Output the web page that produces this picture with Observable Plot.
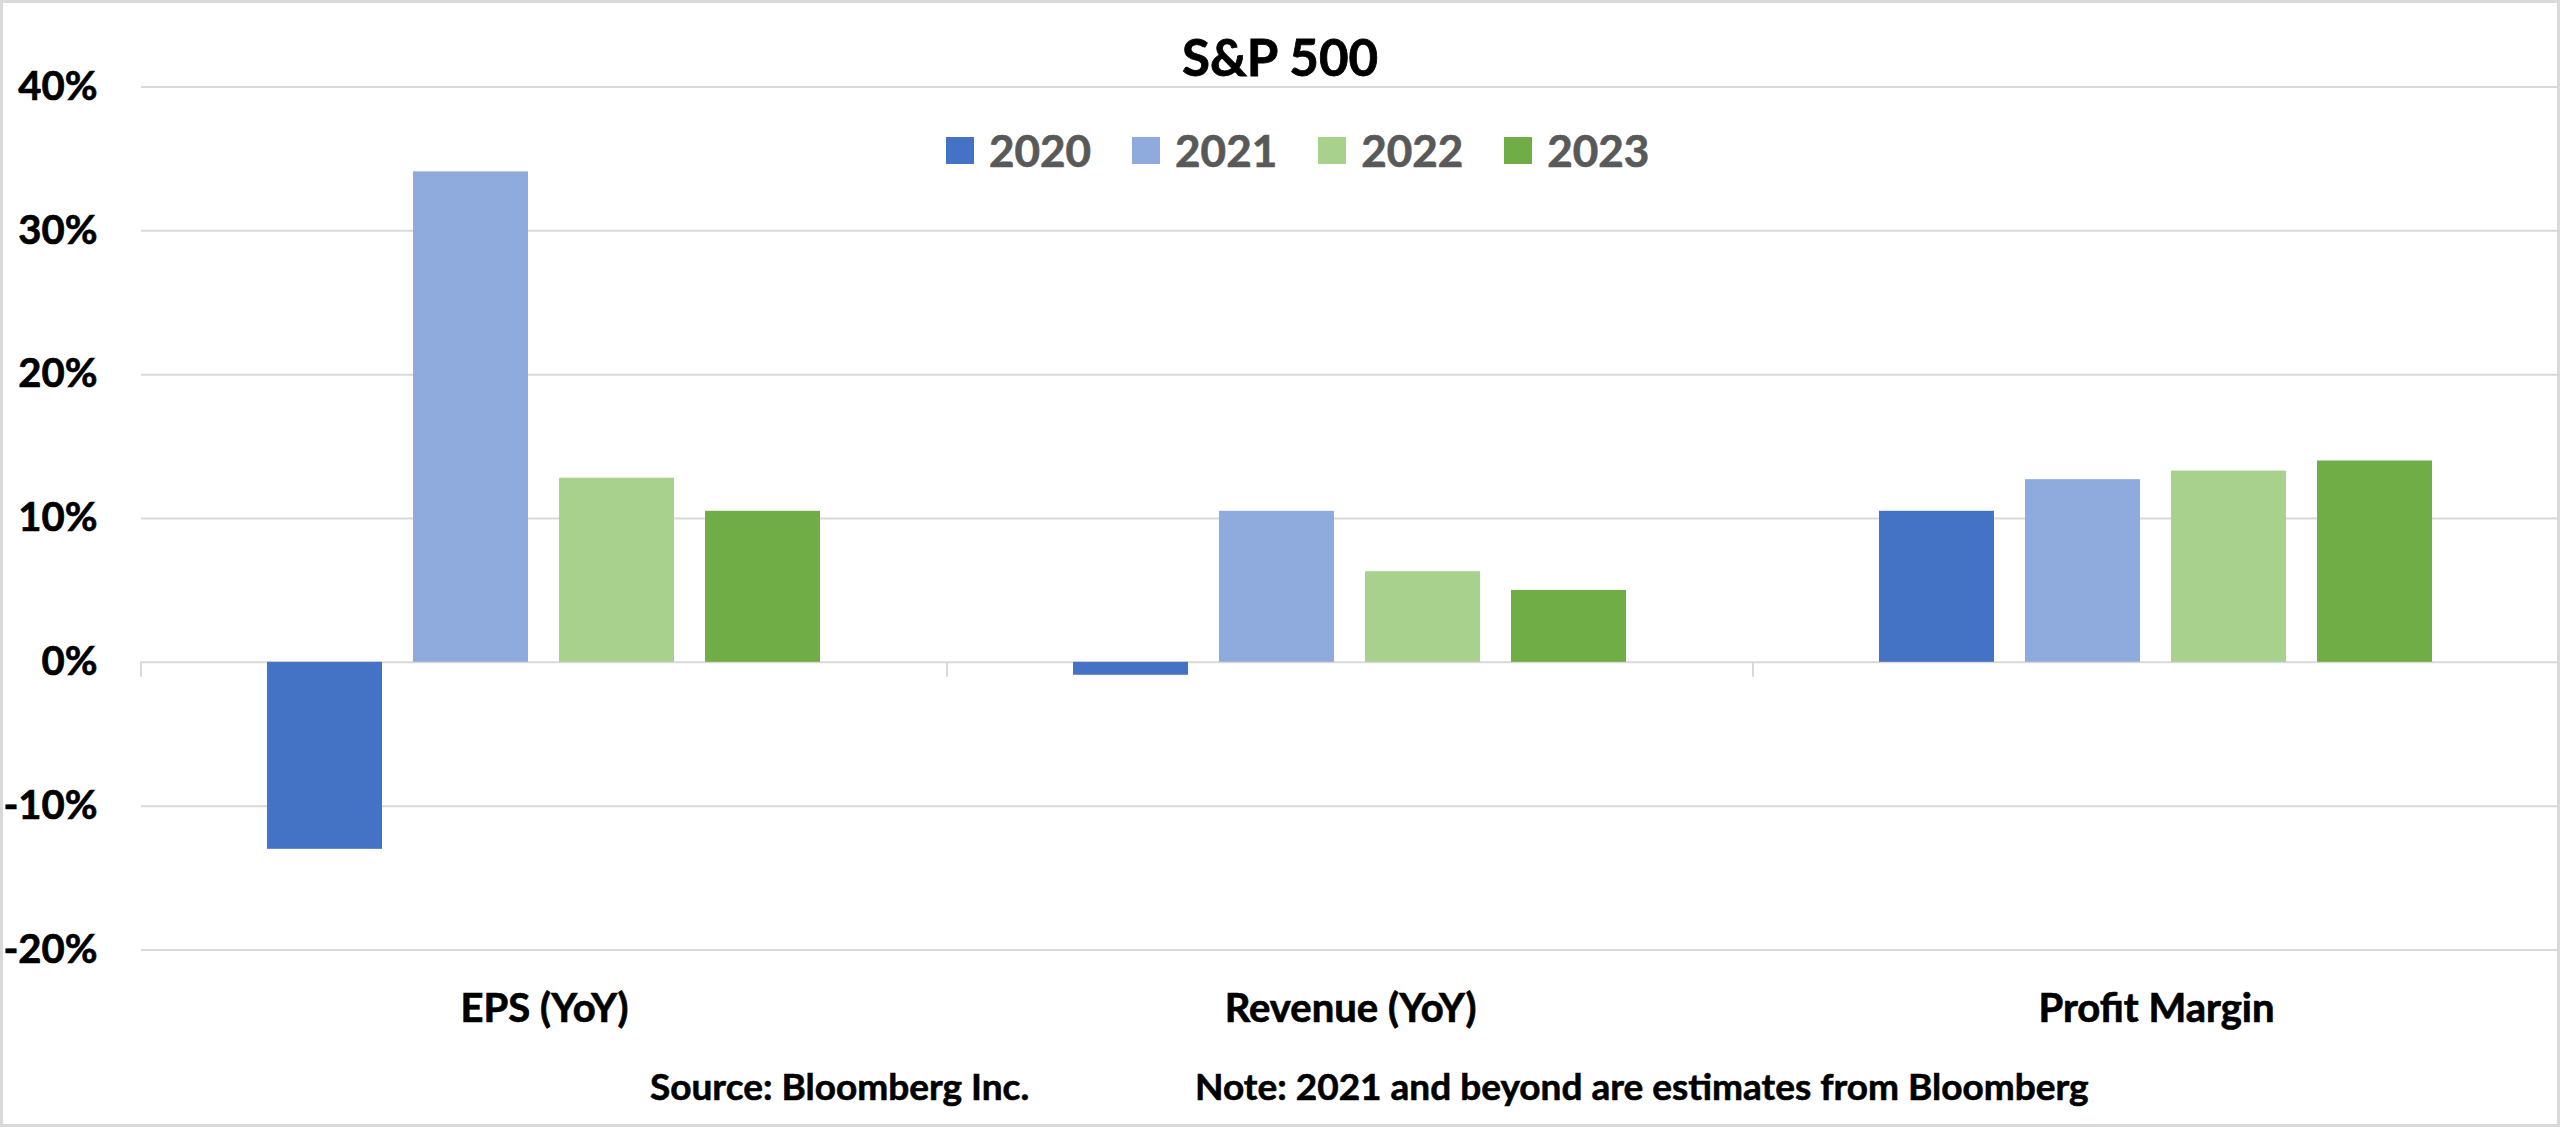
<!DOCTYPE html>
<html>
<head>
<meta charset="utf-8">
<script src="https://cdn.jsdelivr.net/npm/d3@7"></script>
<script src="https://cdn.jsdelivr.net/npm/@observablehq/plot@0.6"></script>
<style>
  html, body { margin: 0; padding: 0; background: #fff; }
  #wrap { position: relative; width: 2560px; height: 1127px; overflow: hidden; background: #fff; font-family: Lato, "Open Sans", sans-serif; font-weight: bold; }
  #chart { position: absolute; left: 0; top: 0; }
  #chart svg text { stroke: currentColor; stroke-width: 0.7px; }
  #border { position: absolute; left: 0; top: 0; width: 2560px; height: 1127px; box-sizing: border-box; border: 3px solid #d9d9d9; pointer-events: none; }
  #title { position: absolute; left: 0; width: 2560px; top: 31px; text-align: center; font-size: 51px; line-height: 1; color: #000; -webkit-text-stroke: 0.8px #000; }
  #legend { position: absolute; left: 946px; top: 128px; display: flex; align-items: center; gap: 41px; font-size: 44px; line-height: 1; color: #595959; -webkit-text-stroke: 0.7px #595959; }
  .item { display: flex; align-items: center; gap: 15px; }
  .sw { width: 28px; height: 27px; display: inline-block; }
  .foot { position: absolute; top: 1067px; font-size: 37px; line-height: 1; color: #000; -webkit-text-stroke: 0.6px #000; }
</style>
</head>
<body>
<div id="wrap">
  <div id="chart"></div>
  <div id="title"></div>
  <div id="legend"></div>
  <div id="source" class="foot" style="left:650px"></div>
  <div id="note" class="foot" style="left:1195px"></div>
  <div id="border"></div>
</div>
<script>
// ---- Data ----
const titleText = "S&P 500";
const categories = ["EPS (YoY)", "Revenue (YoY)", "Profit Margin"];
const years = ["2020", "2021", "2022", "2023"];
const eps = [-13.0, 34.1, 12.8, 10.5];
const revenue = [-0.9, 10.5, 6.3, 5.0];
const profitMargin = [10.5, 12.7, 13.3, 14.0];
const yTicks = [-20, -10, 0, 10, 20, 30, 40];
const colors = ["#4472c4", "#8faadc", "#a9d18e", "#70ad47"];
const sourceText = "Source: Bloomberg Inc.";
const noteText = "Note: 2021 and beyond are estimates from Bloomberg";

const seriesByCategory = [eps, revenue, profitMargin];
const data = [];
categories.forEach((c, ci) => {
  years.forEach((yr, yi) => data.push({category: c, year: yr, value: seriesByCategory[ci][yi]}));
});

const gridColor = "#d9d9d9";

const chart = Plot.plot({
  width: 2560,
  height: 1127,
  marginTop: 86.5,
  marginBottom: 177.5,
  marginLeft: 141,
  marginRight: 1,
  style: {fontFamily: "Lato, 'Open Sans', sans-serif", fontWeight: "bold", fontSize: "40px", color: "#000", background: "transparent"},
  fx: {domain: categories, padding: 0},
  x: {domain: years, paddingInner: 0.21, paddingOuter: 0.86, axis: null},
  y: {domain: [yTicks[0], yTicks[yTicks.length - 1]]},
  color: {domain: years, range: colors},
  marks: [
    Plot.gridY({ticks: yTicks, stroke: gridColor, strokeOpacity: 1, strokeWidth: 2}),
    Plot.barY(data, {fx: "category", x: "year", y: "value", fill: "year"}),
    Plot.axisY({ticks: yTicks, tickFormat: d => `${d}%`, tickSize: 0, tickPadding: 44, fontSize: 40, label: null}),
    Plot.axisFx({anchor: "bottom", tickSize: 0, tickPadding: 44, fontSize: 40, label: null})
  ]
});
document.getElementById("chart").appendChild(chart);

// Category separator tick marks on the zero line (positions from Plot's own scales)
const fxs = chart.scale("fx");
const ys = chart.scale("y");
const svg = d3.select(chart);
const y0 = ys.apply(0);
categories.forEach(c => {
  const xb = fxs.apply(c);
  svg.append("line")
    .attr("x1", xb).attr("x2", xb)
    .attr("y1", y0).attr("y2", y0 + 15)
    .attr("stroke", gridColor).attr("stroke-width", 2);
});

// Title
document.getElementById("title").textContent = titleText;
// Legend
const legend = d3.select("#legend");
years.forEach((yr, i) => {
  const it = legend.append("div").attr("class", "item");
  it.append("span").attr("class", "sw").style("background", colors[i]);
  it.append("span").text(yr);
});
// Footer
document.getElementById("source").textContent = sourceText;
document.getElementById("note").textContent = noteText;
</script>
</body>
</html>
